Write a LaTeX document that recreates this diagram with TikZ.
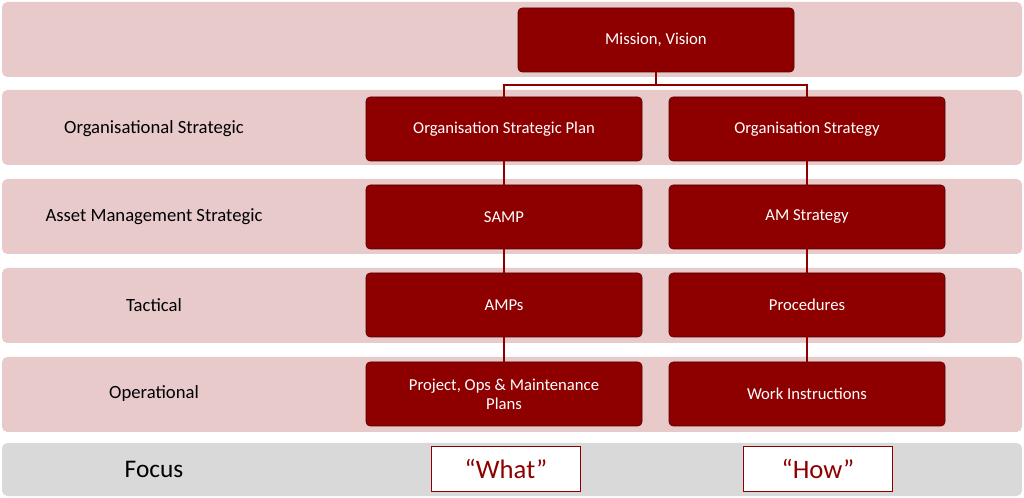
\documentclass[tikz,border=0pt]{standalone}
\usepackage{fontspec}
\setmainfont{Carlito}
\definecolor{band}{HTML}{E8CACB}
\definecolor{boxred}{HTML}{8E0000}
\definecolor{focusgray}{HTML}{D9D9D9}
\tikzset{
  lvl/.style={fill=band, draw=none, rounded corners=4pt},
  redbox/.style={fill=boxred, draw=boxred!60!black, rounded corners=3pt, text=white,
    minimum width=207pt, minimum height=48pt, align=center, font=\fontsize{12.5}{14}\selectfont, inner sep=1pt},
  rowlabel/.style={font=\fontsize{14}{16}\selectfont},
  focusbox/.style={fill=white, draw=boxred, line width=1.2pt, text=boxred,
    minimum width=112pt, minimum height=34pt, font=\fontsize{20}{22}\selectfont},
  link/.style={draw=boxred, line width=1pt}
}
\begin{document}
\begin{tikzpicture}[x=0.75pt,y=-0.75pt]
\useasboundingbox (0,0) rectangle (1024,498);
% bands
\fill[lvl] (2,2) rectangle (1022,77);
\fill[lvl] (2,90) rectangle (1022,165);
\fill[lvl] (2,179) rectangle (1022,254);
\fill[lvl] (2,268) rectangle (1022,343);
\fill[lvl] (2,357) rectangle (1022,432);
\fill[focusgray, rounded corners=4pt] (2,443) rectangle (1022,496);
% row labels
\node[rowlabel] (l1) at (154,129) {Organisational Strategic};
\node[rowlabel] (l2) at (154,217) {Asset Management Strategic};
\node[rowlabel] (l3) at (154,305) {Tactical};
\node[rowlabel] (l4) at (154,394) {Operational};
\node[font=\fontsize{19}{21}\selectfont] (l5) at (154,469) {Focus};
% boxes
\node[redbox] (mv) at (656,40) {Mission, Vision};
\node[redbox] (osp) at (504,129) {Organisation Strategic Plan};
\node[redbox] (ost) at (807,129) {Organisation Strategy};
\node[redbox] (samp) at (504,217) {SAMP};
\node[redbox] (ams) at (807,217) {AM Strategy};
\node[redbox] (amps) at (504,305) {AMPs};
\node[redbox] (proc) at (807,305) {Procedures};
\node[redbox] (pom) at (504,394) {Project, Ops \& Maintenance\\Plans};
\node[redbox] (wi) at (807,394) {Work Instructions};
% focus
\node[focusbox] (what) at (506,469) {``What''};
\node[focusbox] (how) at (818,469) {``How''};
% connectors
\coordinate (split) at (656,85);
\draw[link] (mv.south) -- (split);
\draw[link] (split) -| (osp.north);
\draw[link] (split) -| (ost.north);
\draw[link] (osp) -- (samp);
\draw[link] (samp) -- (amps);
\draw[link] (amps) -- (pom);
\draw[link] (ost) -- (ams);
\draw[link] (ams) -- (proc);
\draw[link] (proc) -- (wi);
\end{tikzpicture}
\end{document}
